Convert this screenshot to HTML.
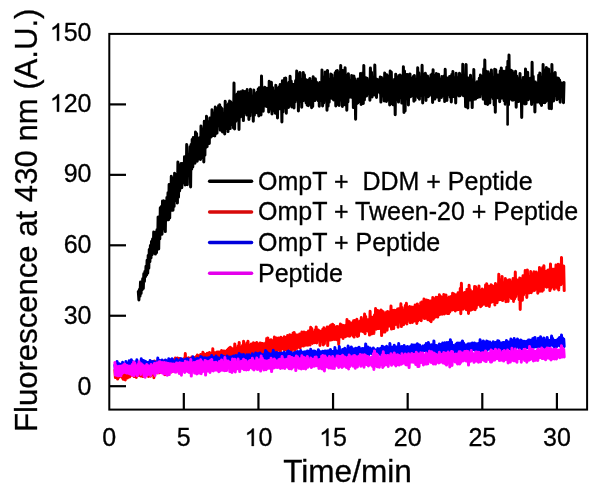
<!DOCTYPE html>
<html><head><meta charset="utf-8"><style>
html,body{margin:0;padding:0;background:#fff;width:598px;height:492px;overflow:hidden}
svg{display:block;will-change:transform}
text{font-family:"Liberation Sans",sans-serif;fill:#000;stroke:#000;stroke-width:0.3px}
.one{fill:#000;stroke:#000;stroke-width:24px}
</style></head><body>
<svg width="598" height="492" viewBox="0 0 598 492">
<rect x="0" y="0" width="598" height="492" fill="#fff"/>
<g fill="none" stroke-linejoin="round" stroke-linecap="round">
<polyline points="138.3,291.5 138.9,300.0 139.4,289.4 140.0,296.1 140.5,282.0 141.1,293.5 141.6,282.0 142.2,289.8 142.7,278.7 143.3,288.4 143.8,273.8 144.4,281.5 144.9,271.4 145.5,276.6 146.0,266.2 146.6,275.0 147.1,260.2 147.7,273.1 148.2,255.4 148.8,268.3 149.3,249.4 149.9,261.7 150.4,245.5 151.0,258.0 151.5,241.5 152.1,254.7 152.6,239.0 153.2,253.3 153.7,232.1 154.3,252.5 154.8,235.0 155.4,254.1 155.9,232.0 156.5,252.8 157.0,229.7 157.6,249.0 158.1,217.0 158.7,249.0 159.2,216.7 159.8,239.0 160.3,207.7 160.9,232.4 161.4,206.6 162.0,234.2 162.5,200.9 163.1,228.2 163.6,200.8 164.2,229.2 164.7,201.3 165.3,231.6 165.8,202.6 166.4,219.9 166.9,197.5 167.5,219.7 168.0,192.8 168.6,219.7 169.1,184.4 169.7,218.0 170.2,187.9 170.8,210.2 171.3,176.2 171.9,207.5 172.4,182.5 173.0,210.2 173.5,177.9 174.1,206.6 174.6,173.2 175.2,198.7 175.7,174.3 176.3,200.8 176.8,176.1 177.4,203.1 177.9,162.0 178.5,197.3 179.0,164.9 179.6,190.9 180.1,167.5 180.7,188.1 181.2,163.4 181.8,187.7 182.3,163.4 182.9,182.5 183.4,164.6 184.0,180.1 184.5,156.8 185.1,185.0 185.6,158.7 186.2,179.5 186.7,144.5 187.3,184.7 187.8,154.3 188.4,172.7 188.9,154.2 189.5,171.0 190.0,146.7 190.6,186.9 191.1,144.4 191.7,169.3 192.2,139.4 192.8,166.9 193.3,137.5 193.9,161.8 194.4,141.6 195.0,163.2 195.5,132.1 196.1,158.6 196.6,133.6 197.2,161.2 197.7,138.0 198.3,159.0 198.8,139.0 199.4,155.6 199.9,137.6 200.5,159.4 201.0,126.1 201.6,157.6 202.1,133.0 202.7,154.3 203.2,128.8 203.8,161.9 204.3,121.3 204.9,155.2 205.4,122.5 206.0,147.6 206.5,116.2 207.1,146.6 207.6,121.7 208.2,142.6 208.7,122.3 209.3,143.4 209.8,118.0 210.4,137.5 210.9,119.7 211.5,136.4 212.0,109.7 212.6,133.9 213.1,119.2 213.7,135.6 214.2,112.7 214.8,135.9 215.3,107.0 215.9,133.6 216.4,113.5 217.0,133.1 217.5,108.4 218.1,124.8 218.6,105.7 219.2,125.8 219.7,104.8 220.3,130.2 220.8,107.2 221.4,127.7 221.9,108.4 222.5,131.9 223.0,113.8 223.6,127.2 224.1,114.2 224.7,133.9 225.2,101.3 225.8,127.8 226.3,105.2 226.9,128.7 227.4,107.9 228.0,131.6 228.5,103.8 229.1,126.4 229.6,101.0 230.2,128.6 230.7,101.7 231.3,122.7 231.8,103.6 232.4,124.7 232.9,103.2 233.5,128.0 234.0,83.0 234.6,128.9 235.1,100.4 235.7,121.4 236.2,94.7 236.8,120.0 237.3,94.1 237.9,118.3 238.4,91.9 239.0,129.6 239.5,97.8 240.1,117.1 240.6,91.8 241.2,116.4 241.7,96.4 242.3,115.2 242.8,90.8 243.4,120.6 243.9,94.7 244.5,112.9 245.0,91.4 245.6,112.1 246.1,96.5 246.7,115.0 247.2,89.6 247.8,111.7 248.3,97.0 248.9,119.5 249.4,93.2 250.0,115.9 250.5,89.3 251.1,110.9 251.6,99.9 252.2,110.6 252.7,96.0 253.3,121.2 253.8,90.0 254.4,115.3 254.9,98.9 255.5,112.7 256.0,93.5 256.6,111.1 257.1,92.3 257.7,113.2 258.2,89.0 258.8,115.9 259.3,87.8 259.9,104.0 260.4,87.4 261.0,115.0 261.5,75.9 262.1,101.6 262.6,87.8 263.2,111.3 263.7,89.2 264.3,101.9 264.8,87.2 265.4,105.9 265.9,89.3 266.5,106.4 267.0,88.2 267.6,102.5 268.1,88.4 268.7,112.0 269.2,81.2 269.8,109.1 270.3,86.1 270.9,107.9 271.4,82.2 272.0,114.0 272.5,87.4 273.1,110.9 273.6,91.8 274.2,106.0 274.7,90.7 275.3,113.3 275.8,85.3 276.4,110.3 276.9,91.0 277.5,118.0 278.0,88.2 278.6,107.3 279.1,86.9 279.7,108.8 280.2,84.4 280.8,105.0 281.3,84.6 281.9,121.9 282.4,80.7 283.0,112.0 283.5,86.2 284.1,102.0 284.6,78.3 285.2,108.3 285.7,78.1 286.3,113.3 286.8,84.2 287.4,100.3 287.9,83.5 288.5,107.4 289.0,82.2 289.6,100.3 290.1,76.3 290.7,105.5 291.2,81.1 291.8,106.9 292.3,84.0 292.9,102.7 293.4,85.3 294.0,108.0 294.5,84.2 295.1,101.9 295.6,80.8 296.2,99.6 296.7,71.0 297.3,99.0 297.8,74.0 298.4,110.9 298.9,76.7 299.5,98.6 300.0,72.4 300.6,102.2 301.1,81.0 301.7,107.3 302.2,79.4 302.8,100.9 303.3,72.5 303.9,99.0 304.4,74.7 305.0,100.4 305.5,79.2 306.1,102.9 306.6,80.2 307.2,105.1 307.7,80.2 308.3,105.8 308.8,79.8 309.4,104.4 309.9,78.5 310.5,103.5 311.0,81.3 311.6,107.7 312.1,83.2 312.7,106.4 313.2,76.7 313.8,99.2 314.3,81.1 314.9,100.6 315.4,78.7 316.0,99.1 316.5,82.0 317.1,98.6 317.6,85.4 318.2,100.7 318.7,83.6 319.3,106.3 319.8,82.4 320.4,101.0 320.9,84.1 321.5,99.3 322.0,69.9 322.6,105.9 323.1,85.8 323.7,103.0 324.2,77.0 324.8,99.9 325.3,71.9 325.9,97.5 326.4,83.0 327.0,110.2 327.5,70.4 328.1,106.2 328.6,80.7 329.2,102.3 329.7,79.6 330.3,97.9 330.8,74.1 331.4,98.0 331.9,74.8 332.5,98.6 333.0,79.1 333.6,99.9 334.1,78.6 334.7,99.4 335.2,72.8 335.8,106.0 336.3,70.9 336.9,98.2 337.4,70.5 338.0,104.5 338.5,73.0 339.1,105.4 339.6,77.4 340.2,97.7 340.7,65.4 341.3,100.4 341.8,79.1 342.4,106.4 342.9,70.6 343.5,104.6 344.0,82.8 344.6,103.8 345.1,67.7 345.7,105.2 346.2,75.1 346.8,110.2 347.3,83.3 347.9,101.9 348.4,73.8 349.0,97.4 349.5,80.9 350.1,94.3 350.6,82.1 351.2,97.3 351.7,75.4 352.3,94.6 352.8,77.2 353.4,107.6 353.9,76.1 354.5,101.3 355.0,78.8 355.6,119.3 356.1,81.0 356.7,103.7 357.2,81.0 357.8,103.0 358.3,78.9 358.9,101.7 359.4,79.5 360.0,100.0 360.5,73.4 361.1,104.4 361.6,79.8 362.2,103.2 362.7,73.1 363.3,103.6 363.8,65.5 364.4,100.0 364.9,80.1 365.5,96.0 366.0,77.8 366.6,95.9 367.1,78.3 367.7,93.2 368.2,80.8 368.8,92.3 369.3,81.3 369.9,100.3 370.4,68.0 371.0,90.9 371.5,72.2 372.1,97.0 372.6,82.1 373.2,91.6 373.7,77.7 374.3,94.9 374.8,65.1 375.4,90.2 375.9,81.1 376.5,97.5 377.0,79.3 377.6,91.1 378.1,79.7 378.7,91.5 379.2,81.9 379.8,93.0 380.3,76.9 380.9,102.1 381.4,77.4 382.0,92.8 382.5,81.4 383.1,96.4 383.6,78.7 384.2,100.9 384.7,73.0 385.3,98.9 385.8,81.3 386.4,101.4 386.9,74.8 387.5,96.5 388.0,79.0 388.6,100.2 389.1,76.1 389.7,104.9 390.2,70.9 390.8,98.6 391.3,72.1 391.9,103.6 392.4,80.9 393.0,104.8 393.5,80.8 394.1,105.2 394.6,79.2 395.2,114.8 395.7,74.2 396.3,99.2 396.8,78.4 397.4,99.3 397.9,77.1 398.5,102.1 399.0,75.4 399.6,98.0 400.1,74.9 400.7,96.2 401.2,75.9 401.8,103.1 402.3,77.2 402.9,95.7 403.4,66.7 404.0,112.4 404.5,71.1 405.1,111.0 405.6,78.0 406.2,96.6 406.7,74.4 407.3,95.4 407.8,74.4 408.4,105.0 408.9,78.1 409.5,94.6 410.0,74.0 410.6,96.7 411.1,78.4 411.7,95.6 412.2,80.0 412.8,94.4 413.3,76.6 413.9,101.2 414.4,75.6 415.0,100.1 415.5,80.1 416.1,94.4 416.6,82.1 417.2,96.3 417.7,67.8 418.3,97.7 418.8,72.8 419.4,99.3 419.9,77.0 420.5,95.7 421.0,78.5 421.6,94.5 422.1,65.3 422.7,102.9 423.2,78.3 423.8,94.3 424.3,73.9 424.9,94.8 425.4,73.3 426.0,100.5 426.5,76.3 427.1,93.9 427.6,76.0 428.2,96.7 428.7,78.7 429.3,95.6 429.8,80.0 430.4,94.2 430.9,75.0 431.5,93.0 432.0,74.1 432.6,102.4 433.1,69.8 433.7,95.6 434.2,75.6 434.8,99.1 435.3,76.4 435.9,94.4 436.4,73.5 437.0,97.1 437.5,78.7 438.1,95.2 438.6,74.2 439.2,100.6 439.7,79.6 440.3,96.8 440.8,78.9 441.4,97.4 441.9,76.6 442.5,95.2 443.0,82.3 443.6,93.6 444.1,76.0 444.7,101.6 445.2,69.3 445.8,92.2 446.3,80.6 446.9,100.4 447.4,78.1 448.0,92.9 448.5,79.3 449.1,94.8 449.6,76.6 450.2,97.2 450.7,78.3 451.3,101.9 451.8,74.6 452.4,96.6 452.9,71.5 453.5,96.6 454.0,77.5 454.6,96.3 455.1,77.5 455.7,103.0 456.2,73.2 456.8,94.5 457.3,78.9 457.9,95.0 458.4,77.5 459.0,95.9 459.5,73.3 460.1,95.8 460.6,76.5 461.2,93.8 461.7,75.1 462.3,94.1 462.8,64.3 463.4,95.7 463.9,76.9 464.5,95.3 465.0,76.9 465.6,106.7 466.1,64.6 466.7,97.1 467.2,79.9 467.8,107.9 468.3,77.9 468.9,100.5 469.4,81.6 470.0,100.0 470.5,75.2 471.1,99.5 471.6,79.8 472.2,107.6 472.7,82.8 473.3,98.1 473.8,69.6 474.4,99.3 474.9,85.1 475.5,99.1 476.0,82.9 476.6,97.6 477.1,81.7 477.7,97.4 478.2,81.9 478.8,95.9 479.3,78.3 479.9,96.9 480.4,75.1 481.0,94.2 481.5,76.6 482.1,93.2 482.6,80.0 483.2,99.3 483.7,69.0 484.3,95.2 484.8,60.0 485.4,103.7 485.9,71.1 486.5,103.5 487.0,78.8 487.6,104.4 488.1,71.7 488.7,99.0 489.2,74.0 489.8,102.9 490.3,76.6 490.9,96.5 491.4,69.9 492.0,96.7 492.5,77.6 493.1,98.6 493.6,78.6 494.2,104.9 494.7,69.2 495.3,112.3 495.8,69.8 496.4,98.3 496.9,76.5 497.5,97.8 498.0,74.9 498.6,94.9 499.1,75.2 499.7,101.7 500.2,71.0 500.8,98.4 501.3,67.9 501.9,95.7 502.4,72.8 503.0,98.1 503.5,71.3 504.1,100.7 504.6,75.7 505.2,104.2 505.7,71.0 506.3,99.7 506.8,67.3 507.4,101.9 507.9,61.3 508.5,104.7 509.0,55.0 509.6,98.8 510.1,73.4 510.7,97.5 511.2,70.3 511.8,99.9 512.3,71.0 512.9,100.2 513.4,73.0 514.0,98.6 514.5,78.6 515.1,99.6 515.6,71.2 516.2,107.2 516.7,75.9 517.3,98.3 517.8,78.8 518.4,101.6 518.9,79.3 519.5,99.1 520.0,73.4 520.6,101.1 521.1,80.8 521.7,117.4 522.2,81.6 522.8,100.2 523.3,77.5 523.9,103.2 524.4,78.2 525.0,104.0 525.5,69.0 526.1,103.7 526.6,76.7 527.2,97.1 527.7,72.2 528.3,99.7 528.8,78.3 529.4,98.4 529.9,80.9 530.5,96.3 531.0,78.1 531.6,104.4 532.1,62.3 532.7,101.8 533.2,76.3 533.8,98.2 534.3,81.9 534.9,112.0 535.4,82.0 536.0,100.6 536.5,83.6 537.1,102.1 537.6,83.7 538.2,102.0 538.7,75.2 539.3,98.0 539.8,73.1 540.4,103.4 540.9,77.1 541.5,105.4 542.0,77.1 542.6,102.7 543.1,64.6 543.7,95.9 544.2,69.9 544.8,102.8 545.3,74.3 545.9,101.6 546.4,67.5 547.0,100.5 547.5,73.5 548.1,94.1 548.6,69.0 549.2,108.5 549.7,73.9 550.3,95.6 550.8,75.5 551.4,108.7 551.9,64.6 552.5,96.0 553.0,77.7 553.6,101.0 554.1,73.5 554.7,95.7 555.2,72.6 555.8,95.9 556.3,79.7 556.9,99.7 557.4,78.1 558.0,95.4 558.5,78.2 559.1,98.9 559.6,79.9 560.2,102.2 560.7,82.7 561.3,94.3 561.8,83.1 562.4,93.9 562.9,83.5 563.5,102.7 564.0,82.4" stroke="#000" stroke-width="3"/>
<line x1="507.6" y1="96" x2="507.6" y2="124.5" stroke="#000" stroke-width="2.6"/>
<polyline points="114.9,370.1 115.4,377.6 116.0,369.4 116.5,375.9 117.1,369.2 117.6,379.1 118.2,366.8 118.7,377.5 119.3,368.9 119.8,375.9 120.4,368.8 120.9,376.4 121.5,368.7 122.0,377.5 122.6,367.5 123.1,379.3 123.7,369.3 124.2,376.1 124.8,369.7 125.3,380.0 125.9,367.9 126.4,377.1 127.0,366.8 127.5,378.0 128.1,364.7 128.6,376.5 129.2,368.9 129.7,377.0 130.3,367.6 130.8,375.5 131.4,366.5 131.9,375.2 132.5,368.3 133.0,375.1 133.6,366.7 134.1,376.6 134.7,367.1 135.2,376.1 135.8,368.3 136.3,377.4 136.9,368.6 137.4,375.5 138.0,365.7 138.5,375.5 139.1,366.9 139.6,375.3 140.2,367.7 140.7,376.1 141.3,365.8 141.8,374.9 142.4,366.4 142.9,376.6 143.5,365.7 144.0,374.2 144.6,364.9 145.1,375.8 145.7,364.7 146.2,374.5 146.8,364.8 147.3,374.2 147.9,364.4 148.4,376.4 149.0,366.0 149.5,373.6 150.1,363.2 150.6,376.2 151.2,365.9 151.7,374.4 152.3,361.6 152.8,372.7 153.4,362.5 153.9,377.7 154.5,360.9 155.0,372.0 155.6,365.3 156.1,372.0 156.7,362.8 157.2,373.0 157.8,363.9 158.3,371.4 158.9,363.6 159.4,372.8 160.0,363.7 160.5,372.0 161.1,364.0 161.6,370.3 162.2,363.2 162.7,371.3 163.3,360.9 163.8,369.8 164.4,362.2 164.9,374.8 165.5,360.5 166.0,369.8 166.6,363.6 167.1,373.4 167.7,363.3 168.2,372.5 168.8,360.9 169.3,369.1 169.9,363.1 170.4,370.0 171.0,361.7 171.5,371.9 172.1,359.4 172.6,369.6 173.2,360.9 173.7,368.4 174.3,359.6 174.8,371.5 175.4,358.0 175.9,369.7 176.5,360.3 177.0,371.1 177.6,358.1 178.1,370.0 178.7,360.1 179.2,368.7 179.8,358.5 180.3,367.9 180.9,359.3 181.4,369.5 182.0,360.2 182.5,367.3 183.1,359.6 183.6,367.1 184.2,358.6 184.7,366.4 185.3,353.6 185.8,366.7 186.4,359.3 186.9,366.5 187.5,358.4 188.0,368.0 188.6,357.8 189.1,365.9 189.7,358.4 190.2,366.2 190.8,358.2 191.3,366.4 191.9,356.9 192.4,366.0 193.0,357.9 193.5,366.6 194.1,357.6 194.6,367.4 195.2,357.5 195.7,367.2 196.3,356.6 196.8,364.0 197.4,354.9 197.9,365.4 198.5,355.9 199.0,363.9 199.6,355.6 200.1,363.9 200.7,354.5 201.2,365.9 201.8,354.6 202.3,363.7 202.9,352.3 203.4,367.9 204.0,353.8 204.5,364.4 205.1,354.2 205.6,362.8 206.2,354.2 206.7,368.3 207.3,353.3 207.8,363.5 208.4,354.9 208.9,362.1 209.5,352.4 210.0,363.8 210.6,354.1 211.1,361.5 211.7,352.9 212.2,363.0 212.8,348.7 213.3,362.6 213.9,352.7 214.4,362.2 215.0,352.8 215.5,366.0 216.1,352.6 216.6,359.8 217.2,351.9 217.7,361.7 218.3,352.0 218.8,363.1 219.4,352.0 219.9,361.2 220.5,352.2 221.0,359.4 221.6,350.6 222.1,360.9 222.7,351.9 223.2,361.2 223.8,350.9 224.3,360.7 224.9,351.3 225.4,360.3 226.0,351.5 226.5,361.0 227.1,350.2 227.6,357.9 228.2,348.9 228.7,357.9 229.3,348.0 229.8,359.4 230.4,347.3 230.9,360.6 231.5,348.3 232.0,361.1 232.6,349.7 233.1,358.6 233.7,348.7 234.2,358.3 234.8,343.9 235.3,356.9 235.9,348.2 236.4,359.0 237.0,348.5 237.5,357.7 238.1,346.1 238.6,358.5 239.2,342.4 239.7,361.5 240.3,347.6 240.8,359.3 241.4,347.1 241.9,358.0 242.5,345.6 243.0,358.9 243.6,341.2 244.1,358.9 244.7,345.1 245.2,359.5 245.8,346.3 246.3,355.5 246.9,343.1 247.4,355.7 248.0,341.2 248.5,357.2 249.1,345.2 249.6,357.3 250.2,345.0 250.7,354.3 251.3,344.0 251.8,356.9 252.4,343.8 252.9,356.5 253.5,342.8 254.0,353.4 254.6,343.6 255.1,355.5 255.7,343.2 256.2,354.0 256.8,342.4 257.3,354.5 257.9,344.2 258.4,352.7 259.0,343.9 259.5,354.6 260.1,342.9 260.6,357.7 261.2,343.3 261.7,354.2 262.3,343.4 262.8,354.5 263.4,343.8 263.9,352.7 264.5,344.0 265.0,352.2 265.6,343.1 266.1,353.4 266.7,338.5 267.2,352.9 267.8,337.9 268.3,353.0 268.9,339.9 269.4,351.4 270.0,342.4 270.5,352.1 271.1,339.8 271.6,351.6 272.2,341.2 272.7,350.5 273.3,340.6 273.8,350.0 274.4,337.0 274.9,350.3 275.5,341.6 276.0,351.3 276.6,338.1 277.1,351.5 277.7,340.7 278.2,349.8 278.8,337.9 279.3,349.3 279.9,338.9 280.4,351.5 281.0,337.2 281.5,348.3 282.1,339.8 282.6,348.7 283.2,338.2 283.7,349.5 284.3,336.7 284.8,350.0 285.4,338.0 285.9,349.7 286.5,337.2 287.0,349.9 287.6,335.6 288.1,351.6 288.7,335.5 289.2,347.8 289.8,334.7 290.3,348.3 290.9,335.2 291.4,351.1 292.0,336.9 292.5,348.5 293.1,333.1 293.6,349.0 294.2,332.5 294.7,350.6 295.3,334.6 295.8,348.0 296.4,335.0 296.9,348.4 297.5,334.9 298.0,346.7 298.6,335.3 299.1,347.3 299.7,333.9 300.2,348.0 300.8,335.9 301.3,344.3 301.9,332.1 302.4,345.7 303.0,334.2 303.5,346.1 304.1,332.1 304.6,343.8 305.2,333.8 305.7,345.3 306.3,332.6 306.8,344.1 307.4,332.4 307.9,345.2 308.5,331.1 309.0,342.2 309.6,331.6 310.1,344.9 310.7,327.2 311.2,342.4 311.8,328.5 312.3,343.4 312.9,333.0 313.4,341.4 314.0,332.2 314.5,342.8 315.1,330.0 315.6,340.9 316.2,326.9 316.7,343.0 317.3,332.0 317.8,340.2 318.4,329.9 318.9,340.4 319.5,331.9 320.0,345.5 320.6,331.2 321.1,340.7 321.7,331.1 322.2,341.2 322.8,329.2 323.3,344.9 323.9,327.7 324.4,343.8 325.0,329.9 325.5,338.9 326.1,329.1 326.6,340.2 327.2,326.9 327.7,345.6 328.3,327.0 328.8,338.3 329.4,327.7 329.9,340.0 330.5,325.5 331.0,339.9 331.6,324.7 332.1,339.8 332.7,324.2 333.2,338.5 333.8,325.3 334.3,339.5 334.9,327.3 335.4,336.8 336.0,327.0 336.5,339.8 337.1,326.6 337.6,338.3 338.2,326.8 338.7,344.4 339.3,326.7 339.8,337.0 340.4,324.0 340.9,336.3 341.5,324.8 342.0,337.0 342.6,325.6 343.1,338.5 343.7,325.4 344.2,336.1 344.8,325.7 345.3,336.8 345.9,325.3 346.4,336.0 347.0,319.5 347.5,335.1 348.1,322.6 348.6,335.9 349.2,321.6 349.7,336.2 350.3,323.4 350.8,334.3 351.4,322.9 351.9,333.1 352.5,323.8 353.0,336.0 353.6,320.7 354.1,337.1 354.7,320.4 355.2,334.8 355.8,321.2 356.3,334.2 356.9,319.3 357.4,336.4 358.0,322.2 358.5,335.9 359.1,321.4 359.6,331.5 360.2,321.0 360.7,330.8 361.3,317.6 361.8,331.1 362.4,319.8 362.9,331.6 363.5,320.7 364.0,332.2 364.6,314.0 365.1,333.8 365.7,316.6 366.2,330.7 366.8,320.1 367.3,330.2 367.9,319.7 368.4,331.5 369.0,319.4 369.5,335.1 370.1,311.3 370.6,329.1 371.2,317.1 371.7,333.9 372.3,318.1 372.8,330.0 373.4,317.1 373.9,333.4 374.5,315.0 375.0,329.1 375.6,308.5 376.1,329.2 376.7,314.6 377.2,328.5 377.8,310.4 378.3,328.5 378.9,311.0 379.4,328.4 380.0,312.8 380.5,326.7 381.1,310.0 381.6,335.6 382.2,311.0 382.7,332.3 383.3,311.7 383.8,326.7 384.4,313.8 384.9,332.1 385.5,313.6 386.0,326.4 386.6,311.9 387.1,330.2 387.7,311.6 388.2,326.4 388.8,311.9 389.3,325.1 389.9,313.9 390.4,326.2 391.0,306.1 391.5,329.1 392.1,313.6 392.6,326.9 393.2,310.5 393.7,328.6 394.3,310.3 394.8,322.9 395.4,310.5 395.9,324.4 396.5,312.1 397.0,322.3 397.6,309.0 398.1,327.2 398.7,308.8 399.2,321.8 399.8,310.1 400.3,321.9 400.9,303.7 401.4,326.6 402.0,307.4 402.5,321.7 403.1,310.3 403.6,324.8 404.2,310.1 404.7,322.9 405.3,305.5 405.8,321.8 406.4,303.2 406.9,323.9 407.5,309.2 408.0,320.2 408.6,307.2 409.1,320.4 409.7,306.5 410.2,322.8 410.8,308.7 411.3,321.0 411.9,307.0 412.4,322.5 413.0,308.1 413.5,320.9 414.1,306.9 414.6,321.0 415.2,304.9 415.7,320.1 416.3,307.3 416.8,323.5 417.4,303.9 417.9,320.9 418.5,307.2 419.0,317.9 419.6,306.6 420.1,319.6 420.7,302.7 421.2,320.8 421.8,302.1 422.3,316.5 422.9,304.6 423.4,317.5 424.0,299.0 424.5,318.6 425.1,304.7 425.6,318.2 426.2,300.1 426.7,316.9 427.3,300.2 427.8,319.7 428.4,300.5 428.9,318.3 429.5,302.1 430.0,320.8 430.6,301.1 431.1,321.8 431.7,302.0 432.2,317.8 432.8,297.4 433.3,319.3 433.9,302.8 434.4,317.7 435.0,298.7 435.5,315.9 436.1,297.3 436.6,316.7 437.2,300.3 437.7,317.1 438.3,297.2 438.8,314.9 439.4,294.7 439.9,314.5 440.5,296.3 441.0,312.7 441.6,299.3 442.1,314.2 442.7,297.2 443.2,313.8 443.8,294.5 444.3,313.9 444.9,295.5 445.4,313.3 446.0,295.1 446.5,310.9 447.1,298.0 447.6,313.6 448.2,299.4 448.7,313.6 449.3,296.9 449.8,312.0 450.4,299.1 450.9,310.1 451.5,296.3 452.0,310.1 452.6,293.2 453.1,309.4 453.7,293.8 454.2,309.5 454.8,296.0 455.3,311.0 455.9,294.8 456.4,308.0 457.0,295.4 457.5,309.7 458.1,292.8 458.6,309.4 459.2,294.1 459.7,308.4 460.3,288.4 460.8,313.8 461.4,283.3 461.9,308.3 462.5,294.5 463.0,309.3 463.6,293.1 464.1,308.3 464.7,292.6 465.2,306.9 465.8,294.8 466.3,309.8 466.9,289.6 467.4,309.6 468.0,293.0 468.5,313.5 469.1,285.2 469.6,309.4 470.2,289.7 470.7,310.2 471.3,292.4 471.8,309.7 472.4,291.7 472.9,306.6 473.5,291.4 474.0,309.2 474.6,286.6 475.1,309.7 475.7,286.7 476.2,308.0 476.8,289.1 477.3,305.2 477.9,291.4 478.4,304.4 479.0,285.9 479.5,304.3 480.1,290.1 480.6,306.7 481.2,291.3 481.7,305.6 482.3,289.1 482.8,304.5 483.4,290.9 483.9,301.9 484.5,289.8 485.0,304.3 485.6,285.1 486.1,305.6 486.7,283.7 487.2,302.5 487.8,287.1 488.3,305.5 488.9,286.3 489.4,306.4 490.0,287.0 490.5,301.7 491.1,284.7 491.6,302.3 492.2,285.5 492.7,299.8 493.3,286.9 493.8,301.6 494.4,286.3 494.9,304.9 495.5,283.5 496.0,300.1 496.6,285.5 497.1,302.7 497.7,284.8 498.2,299.8 498.8,274.2 499.3,299.7 499.9,280.1 500.4,297.1 501.0,286.1 501.5,299.8 502.1,276.4 502.6,300.6 503.2,285.4 503.7,297.8 504.3,282.5 504.8,298.6 505.4,278.5 505.9,301.7 506.5,281.8 507.0,296.0 507.6,280.6 508.1,301.5 508.7,279.9 509.2,297.0 509.8,279.8 510.3,296.3 510.9,282.2 511.4,298.5 512.0,281.8 512.5,296.2 513.1,278.6 513.6,301.4 514.2,281.6 514.7,298.7 515.3,272.0 515.8,296.6 516.4,279.4 516.9,294.3 517.5,280.7 518.0,294.1 518.6,280.1 519.1,299.7 519.7,278.0 520.2,309.5 520.8,280.0 521.3,293.8 521.9,278.5 522.4,300.2 523.0,275.8 523.5,295.0 524.1,278.8 524.6,292.6 525.2,270.5 525.7,293.0 526.3,277.3 526.8,297.5 527.4,270.1 527.9,291.0 528.5,276.9 529.0,293.0 529.6,276.6 530.1,291.3 530.7,271.5 531.2,292.8 531.8,274.6 532.3,291.2 532.9,273.7 533.4,290.0 534.0,271.8 534.5,290.4 535.1,273.4 535.6,287.8 536.2,271.9 536.7,289.1 537.3,274.1 537.8,293.3 538.4,273.5 538.9,288.9 539.5,267.5 540.0,291.2 540.6,268.8 541.1,289.8 541.7,272.4 542.2,291.2 542.8,267.5 543.3,290.1 543.9,265.8 544.4,285.1 545.0,273.8 545.5,286.5 546.1,271.3 546.6,287.2 547.2,270.8 547.7,286.8 548.3,270.0 548.8,284.4 549.4,271.8 549.9,290.6 550.5,264.1 551.0,288.5 551.6,270.6 552.1,286.7 552.7,269.2 553.2,285.8 553.8,269.2 554.3,289.3 554.9,269.0 555.4,287.3 556.0,264.9 556.5,286.5 557.1,266.4 557.6,288.5 558.2,264.3 558.7,289.9 559.3,264.8 559.8,283.3 560.4,269.5 560.9,284.8 561.5,257.6 562.0,283.5 562.6,268.6 563.1,282.5 563.7,266.1 564.2,290.6" stroke="#ff0000" stroke-width="3"/>
<polyline points="114.9,365.1 115.4,369.7 116.0,365.5 116.5,369.6 117.1,361.4 117.6,369.2 118.2,364.8 118.7,369.6 119.3,363.8 119.8,372.2 120.4,364.2 120.9,371.3 121.5,364.8 122.0,371.0 122.6,362.3 123.1,369.0 123.7,364.4 124.2,370.2 124.8,364.3 125.3,369.9 125.9,361.5 126.4,370.9 127.0,364.0 127.5,369.7 128.1,362.9 128.6,369.6 129.2,360.7 129.7,370.7 130.3,363.4 130.8,372.2 131.4,359.8 131.9,372.2 132.5,361.4 133.0,370.2 133.6,362.0 134.1,368.9 134.7,363.2 135.2,372.1 135.8,361.8 136.3,368.5 136.9,359.8 137.4,369.5 138.0,362.5 138.5,370.9 139.1,362.4 139.6,371.8 140.2,362.4 140.7,367.8 141.3,358.8 141.8,369.1 142.4,362.5 142.9,368.2 143.5,360.6 144.0,369.0 144.6,361.1 145.1,369.6 145.7,361.4 146.2,369.0 146.8,362.2 147.3,368.1 147.9,362.7 148.4,368.9 149.0,362.2 149.5,367.7 150.1,360.5 150.6,368.0 151.2,361.5 151.7,367.0 152.3,362.2 152.8,368.7 153.4,361.4 153.9,368.6 154.5,362.0 155.0,368.6 155.6,362.2 156.1,367.9 156.7,362.0 157.2,366.6 157.8,358.0 158.3,368.0 158.9,361.4 159.4,367.4 160.0,360.6 160.5,368.3 161.1,361.8 161.6,367.4 162.2,359.9 162.7,366.2 163.3,362.0 163.8,367.5 164.4,361.9 164.9,366.0 165.5,359.9 166.0,367.6 166.6,361.5 167.1,368.2 167.7,360.7 168.2,366.6 168.8,358.7 169.3,366.1 169.9,361.6 170.4,368.2 171.0,359.4 171.5,365.7 172.1,358.7 172.6,367.0 173.2,360.7 173.7,367.5 174.3,360.9 174.8,365.3 175.4,360.9 175.9,367.9 176.5,358.9 177.0,367.9 177.6,361.2 178.1,365.9 178.7,360.8 179.2,365.7 179.8,359.9 180.3,366.6 180.9,358.7 181.4,365.2 182.0,359.0 182.5,365.4 183.1,360.7 183.6,367.3 184.2,360.0 184.7,367.7 185.3,359.4 185.8,368.7 186.4,358.9 186.9,364.7 187.5,358.7 188.0,366.4 188.6,359.6 189.1,367.1 189.7,359.7 190.2,366.7 190.8,358.8 191.3,365.2 191.9,359.3 192.4,365.5 193.0,356.8 193.5,364.6 194.1,359.4 194.6,364.9 195.2,359.2 195.7,364.6 196.3,359.0 196.8,366.3 197.4,358.3 197.9,363.9 198.5,358.7 199.0,365.1 199.6,358.6 200.1,363.8 200.7,356.6 201.2,364.6 201.8,357.1 202.3,364.7 202.9,358.0 203.4,364.7 204.0,358.0 204.5,366.0 205.1,357.7 205.6,365.2 206.2,358.6 206.7,366.0 207.3,358.0 207.8,364.8 208.4,358.3 208.9,363.4 209.5,357.4 210.0,364.5 210.6,357.7 211.1,364.4 211.7,355.6 212.2,363.6 212.8,357.6 213.3,362.9 213.9,357.7 214.4,365.4 215.0,357.3 215.5,363.5 216.1,355.9 216.6,363.1 217.2,357.9 217.7,363.2 218.3,357.7 218.8,363.7 219.4,358.3 219.9,362.7 220.5,358.4 221.0,364.0 221.6,355.2 222.1,362.5 222.7,357.1 223.2,362.0 223.8,356.5 224.3,362.0 224.9,358.0 225.4,362.9 226.0,357.6 226.5,361.8 227.1,356.1 227.6,362.5 228.2,356.9 228.7,365.2 229.3,357.3 229.8,362.1 230.4,356.9 230.9,361.4 231.5,357.4 232.0,362.3 232.6,356.5 233.1,364.6 233.7,356.0 234.2,361.2 234.8,357.1 235.3,362.5 235.9,355.5 236.4,361.3 237.0,356.4 237.5,364.1 238.1,355.5 238.6,361.3 239.2,353.4 239.7,362.0 240.3,355.9 240.8,360.9 241.4,354.7 241.9,366.0 242.5,356.2 243.0,361.1 243.6,354.5 244.1,364.0 244.7,355.9 245.2,362.1 245.8,355.9 246.3,361.9 246.9,354.7 247.4,360.8 248.0,355.4 248.5,360.4 249.1,354.8 249.6,363.9 250.2,355.7 250.7,360.5 251.3,355.7 251.8,362.7 252.4,353.7 252.9,361.2 253.5,355.2 254.0,360.9 254.6,355.6 255.1,360.6 255.7,352.9 256.2,360.9 256.8,353.4 257.3,361.7 257.9,355.4 258.4,362.7 259.0,353.5 259.5,361.9 260.1,353.1 260.6,359.5 261.2,354.2 261.7,361.6 262.3,354.8 262.8,360.1 263.4,355.0 263.9,360.6 264.5,354.1 265.0,361.2 265.6,350.6 266.1,361.6 266.7,351.7 267.2,361.6 267.8,352.9 268.3,359.9 268.9,353.4 269.4,361.4 270.0,354.2 270.5,361.6 271.1,354.1 271.6,360.6 272.2,353.5 272.7,360.5 273.3,350.2 273.8,360.3 274.4,352.4 274.9,359.6 275.5,353.0 276.0,361.5 276.6,352.4 277.1,363.3 277.7,353.0 278.2,360.7 278.8,353.7 279.3,361.4 279.9,353.3 280.4,360.0 281.0,354.1 281.5,360.3 282.1,352.9 282.6,359.4 283.2,354.1 283.7,360.1 284.3,352.3 284.8,360.7 285.4,354.1 285.9,359.7 286.5,353.6 287.0,358.4 287.6,351.5 288.1,360.0 288.7,351.0 289.2,358.8 289.8,353.7 290.3,359.9 290.9,352.3 291.4,358.4 292.0,353.9 292.5,359.4 293.1,353.4 293.6,360.0 294.2,352.7 294.7,360.7 295.3,352.7 295.8,358.1 296.4,352.1 296.9,359.1 297.5,351.5 298.0,359.8 298.6,352.0 299.1,360.3 299.7,351.5 300.2,358.8 300.8,350.6 301.3,358.4 301.9,352.3 302.4,357.9 303.0,353.1 303.5,362.9 304.1,352.0 304.6,358.0 305.2,351.8 305.7,362.6 306.3,351.8 306.8,357.4 307.4,351.0 307.9,360.9 308.5,351.3 309.0,358.8 309.6,351.3 310.1,358.0 310.7,349.3 311.2,357.8 311.8,351.7 312.3,360.1 312.9,351.3 313.4,359.1 314.0,351.1 314.5,356.7 315.1,351.2 315.6,357.5 316.2,352.3 316.7,359.0 317.3,352.1 317.8,358.0 318.4,349.7 318.9,358.3 319.5,351.9 320.0,358.6 320.6,351.7 321.1,359.6 321.7,351.9 322.2,357.4 322.8,351.2 323.3,356.4 323.9,351.6 324.4,357.0 325.0,351.0 325.5,358.4 326.1,351.0 326.6,359.0 327.2,351.6 327.7,357.6 328.3,350.7 328.8,357.2 329.4,351.7 329.9,357.2 330.5,349.6 331.0,357.1 331.6,351.3 332.1,358.2 332.7,351.6 333.2,357.7 333.8,351.3 334.3,361.1 334.9,347.5 335.4,356.9 336.0,350.5 336.5,357.2 337.1,351.3 337.6,356.4 338.2,351.1 338.7,357.4 339.3,346.6 339.8,356.3 340.4,351.0 340.9,357.7 341.5,350.7 342.0,355.6 342.6,349.4 343.1,358.0 343.7,350.7 344.2,357.7 344.8,348.3 345.3,358.1 345.9,349.7 346.4,357.8 347.0,350.5 347.5,356.4 348.1,346.0 348.6,355.8 349.2,348.0 349.7,356.8 350.3,349.5 350.8,356.8 351.4,347.1 351.9,357.9 352.5,348.8 353.0,355.7 353.6,350.0 354.1,356.4 354.7,348.8 355.2,356.9 355.8,348.2 356.3,356.3 356.9,349.2 357.4,356.8 358.0,348.0 358.5,356.2 359.1,347.2 359.6,354.9 360.2,349.5 360.7,356.9 361.3,349.1 361.8,355.0 362.4,348.6 362.9,355.5 363.5,349.4 364.0,355.9 364.6,348.2 365.1,355.0 365.7,343.9 366.2,355.7 366.8,349.4 367.3,354.0 367.9,347.1 368.4,355.3 369.0,348.7 369.5,353.4 370.1,348.0 370.6,353.3 371.2,349.1 371.7,353.5 372.3,349.2 372.8,354.0 373.4,348.1 373.9,354.2 374.5,349.7 375.0,354.5 375.6,350.0 376.1,353.9 376.7,349.8 377.2,356.7 377.8,348.5 378.3,353.9 378.9,349.0 379.4,354.1 380.0,348.8 380.5,354.5 381.1,348.3 381.6,355.3 382.2,346.2 382.7,354.6 383.3,346.7 383.8,354.4 384.4,347.6 384.9,353.5 385.5,347.8 386.0,352.9 386.6,346.3 387.1,355.2 387.7,347.4 388.2,354.0 388.8,348.2 389.3,355.2 389.9,343.5 390.4,353.3 391.0,347.2 391.5,357.1 392.1,347.2 392.6,355.5 393.2,347.1 393.7,354.0 394.3,345.2 394.8,356.8 395.4,347.1 395.9,353.9 396.5,347.1 397.0,353.7 397.6,347.0 398.1,352.5 398.7,343.6 399.2,354.2 399.8,346.6 400.3,352.9 400.9,347.3 401.4,354.2 402.0,346.4 402.5,352.6 403.1,347.2 403.6,353.4 404.2,345.6 404.7,353.9 405.3,347.0 405.8,352.6 406.4,347.4 406.9,354.2 407.5,346.4 408.0,353.4 408.6,347.1 409.1,354.5 409.7,347.2 410.2,354.6 410.8,346.2 411.3,358.3 411.9,344.7 412.4,353.5 413.0,346.7 413.5,353.7 414.1,345.0 414.6,352.6 415.2,347.1 415.7,351.3 416.3,344.7 416.8,353.8 417.4,343.7 417.9,351.3 418.5,345.1 419.0,351.3 419.6,344.9 420.1,353.0 420.7,346.7 421.2,352.1 421.8,346.9 422.3,352.8 422.9,346.1 423.4,350.5 424.0,346.2 424.5,350.5 425.1,345.2 425.6,350.8 426.2,343.6 426.7,351.2 427.3,346.3 427.8,353.8 428.4,342.6 428.9,350.8 429.5,345.8 430.0,354.2 430.6,345.1 431.1,352.4 431.7,344.8 432.2,354.4 432.8,346.1 433.3,353.0 433.9,340.9 434.4,354.0 435.0,345.7 435.5,350.6 436.1,345.4 436.6,352.3 437.2,345.7 437.7,351.0 438.3,345.7 438.8,353.4 439.4,343.9 439.9,352.2 440.5,344.4 441.0,352.2 441.6,345.5 442.1,352.2 442.7,342.9 443.2,350.5 443.8,344.6 444.3,352.3 444.9,342.8 445.4,353.4 446.0,345.2 446.5,351.2 447.1,342.5 447.6,351.3 448.2,345.7 448.7,350.8 449.3,342.3 449.8,352.5 450.4,339.7 450.9,350.5 451.5,342.0 452.0,350.9 452.6,345.4 453.1,350.9 453.7,345.4 454.2,351.9 454.8,345.5 455.3,351.8 455.9,344.3 456.4,351.8 457.0,343.3 457.5,353.9 458.1,342.9 458.6,350.1 459.2,345.1 459.7,349.8 460.3,342.9 460.8,350.1 461.4,342.7 461.9,351.4 462.5,340.9 463.0,349.9 463.6,343.0 464.1,352.0 464.7,345.0 465.2,349.2 465.8,344.9 466.3,349.4 466.9,344.8 467.4,351.4 468.0,344.0 468.5,352.0 469.1,343.8 469.6,349.3 470.2,344.3 470.7,352.8 471.3,343.6 471.8,350.6 472.4,342.9 472.9,349.7 473.5,344.0 474.0,349.5 474.6,343.0 475.1,350.1 475.7,344.3 476.2,351.4 476.8,343.8 477.3,350.4 477.9,343.7 478.4,353.4 479.0,343.3 479.5,352.9 480.1,339.8 480.6,349.2 481.2,342.4 481.7,352.1 482.3,341.8 482.8,349.3 483.4,340.9 483.9,351.4 484.5,343.3 485.0,348.4 485.6,342.2 486.1,348.7 486.7,341.1 487.2,350.2 487.8,341.4 488.3,348.7 488.9,342.8 489.4,349.0 490.0,342.0 490.5,348.1 491.1,343.2 491.6,350.8 492.2,343.4 492.7,348.5 493.3,341.8 493.8,348.1 494.4,343.4 494.9,348.8 495.5,342.4 496.0,349.2 496.6,342.3 497.1,350.6 497.7,340.8 498.2,348.2 498.8,340.9 499.3,348.3 499.9,343.2 500.4,351.6 501.0,342.9 501.5,348.5 502.1,343.1 502.6,349.1 503.2,342.5 503.7,348.6 504.3,342.4 504.8,347.1 505.4,342.4 505.9,351.5 506.5,340.5 507.0,347.7 507.6,341.9 508.1,346.7 508.7,342.0 509.2,348.8 509.8,342.3 510.3,347.8 510.9,339.0 511.4,349.9 512.0,342.0 512.5,346.6 513.1,340.3 513.6,348.0 514.2,338.5 514.7,354.7 515.3,340.2 515.8,347.8 516.4,340.7 516.9,346.3 517.5,339.0 518.0,346.3 518.6,340.6 519.1,348.6 519.7,341.0 520.2,347.3 520.8,340.0 521.3,351.0 521.9,340.8 522.4,346.6 523.0,341.6 523.5,346.8 524.1,341.3 524.6,346.7 525.2,341.4 525.7,346.1 526.3,342.1 526.8,347.7 527.4,341.0 527.9,346.5 528.5,339.9 529.0,348.6 529.6,340.0 530.1,348.1 530.7,341.2 531.2,348.1 531.8,339.9 532.3,346.9 532.9,338.4 533.4,347.3 534.0,337.9 534.5,346.9 535.1,337.6 535.6,346.8 536.2,341.2 536.7,345.8 537.3,341.3 537.8,347.5 538.4,338.3 538.9,346.0 539.5,338.7 540.0,346.5 540.6,336.8 541.1,347.2 541.7,338.9 542.2,346.0 542.8,339.6 543.3,346.9 543.9,337.9 544.4,345.4 545.0,340.2 545.5,349.8 546.1,340.3 546.6,347.7 547.2,337.6 547.7,345.4 548.3,339.9 548.8,345.3 549.4,340.6 549.9,346.4 550.5,340.7 551.0,344.8 551.6,336.0 552.1,345.0 552.7,338.6 553.2,345.7 553.8,340.2 554.3,348.9 554.9,340.6 555.4,345.0 556.0,340.5 556.5,346.8 557.1,340.0 557.6,345.2 558.2,339.0 558.7,345.2 559.3,337.8 559.8,345.9 560.4,337.3 560.9,345.1 561.5,335.0 562.0,346.1 562.6,337.9 563.1,344.4 563.7,338.9 564.2,346.5" stroke="#0000ff" stroke-width="3"/>
<polyline points="114.9,362.6 115.4,375.1 116.0,365.4 116.5,372.9 117.1,366.6 117.6,375.8 118.2,366.8 118.7,375.7 119.3,366.3 119.8,373.8 120.4,366.5 120.9,375.8 121.5,366.0 122.0,373.7 122.6,365.7 123.1,372.7 123.7,364.8 124.2,372.2 124.8,363.9 125.3,372.6 125.9,365.7 126.4,372.9 127.0,365.4 127.5,372.9 128.1,366.0 128.6,373.2 129.2,367.5 129.7,373.8 130.3,365.9 130.8,372.5 131.4,365.9 131.9,375.1 132.5,364.3 133.0,374.8 133.6,362.0 134.1,375.7 134.7,362.8 135.2,374.0 135.8,366.0 136.3,371.8 136.9,366.2 137.4,375.8 138.0,364.6 138.5,372.1 139.1,361.7 139.6,372.5 140.2,364.5 140.7,374.5 141.3,363.8 141.8,372.0 142.4,364.7 142.9,371.8 143.5,366.0 144.0,376.1 144.6,366.1 145.1,377.3 145.7,365.8 146.2,375.2 146.8,364.6 147.3,375.2 147.9,365.6 148.4,373.4 149.0,366.5 149.5,374.1 150.1,366.1 150.6,375.5 151.2,364.5 151.7,372.2 152.3,366.1 152.8,373.2 153.4,365.4 153.9,373.0 154.5,363.4 155.0,375.5 155.6,365.5 156.1,372.7 156.7,363.0 157.2,372.2 157.8,365.3 158.3,372.6 158.9,362.1 159.4,371.2 160.0,361.8 160.5,371.6 161.1,364.5 161.6,372.8 162.2,362.5 162.7,371.9 163.3,365.0 163.8,374.1 164.4,362.4 164.9,373.7 165.5,362.9 166.0,372.7 166.6,363.1 167.1,375.3 167.7,363.4 168.2,371.9 168.8,363.4 169.3,374.6 169.9,364.6 170.4,372.4 171.0,363.7 171.5,371.5 172.1,364.8 172.6,370.7 173.2,363.9 173.7,371.4 174.3,364.5 174.8,372.0 175.4,363.9 175.9,372.2 176.5,363.1 177.0,370.2 177.6,363.2 178.1,370.6 178.7,364.5 179.2,373.5 179.8,362.7 180.3,372.9 180.9,363.2 181.4,375.3 182.0,363.3 182.5,371.5 183.1,363.4 183.6,371.1 184.2,363.9 184.7,372.4 185.3,361.3 185.8,371.1 186.4,363.0 186.9,370.7 187.5,361.9 188.0,371.7 188.6,362.8 189.1,372.4 189.7,364.1 190.2,371.6 190.8,359.5 191.3,376.1 191.9,362.8 192.4,370.7 193.0,363.7 193.5,370.7 194.1,362.5 194.6,373.1 195.2,362.5 195.7,370.5 196.3,361.9 196.8,374.0 197.4,361.3 197.9,372.0 198.5,361.1 199.0,373.1 199.6,363.8 200.1,369.8 200.7,359.8 201.2,373.7 201.8,361.5 202.3,371.7 202.9,362.7 203.4,370.9 204.0,363.5 204.5,371.3 205.1,360.4 205.6,375.1 206.2,361.0 206.7,370.9 207.3,363.7 207.8,371.1 208.4,361.5 208.9,369.5 209.5,363.3 210.0,372.4 210.6,360.2 211.1,368.8 211.7,359.4 212.2,370.5 212.8,362.6 213.3,370.9 213.9,362.8 214.4,370.0 215.0,362.6 215.5,370.1 216.1,362.3 216.6,369.5 217.2,363.2 217.7,370.5 218.3,363.0 218.8,371.7 219.4,361.6 219.9,371.0 220.5,361.7 221.0,369.8 221.6,359.9 222.1,370.2 222.7,362.1 223.2,368.3 223.8,362.3 224.3,370.7 224.9,357.5 225.4,369.3 226.0,360.5 226.5,370.6 227.1,362.9 227.6,368.0 228.2,360.9 228.7,367.8 229.3,362.5 229.8,371.6 230.4,362.2 230.9,370.1 231.5,362.4 232.0,372.5 232.6,358.9 233.1,370.6 233.7,362.2 234.2,368.2 234.8,359.2 235.3,371.9 235.9,362.6 236.4,368.6 237.0,361.9 237.5,368.8 238.1,359.0 238.6,368.5 239.2,362.2 239.7,371.6 240.3,361.7 240.8,368.6 241.4,361.3 241.9,368.2 242.5,362.8 243.0,368.7 243.6,359.3 244.1,369.7 244.7,360.9 245.2,369.3 245.8,360.6 246.3,369.9 246.9,362.5 247.4,367.6 248.0,362.5 248.5,369.7 249.1,360.9 249.6,367.2 250.2,360.5 250.7,367.7 251.3,360.2 251.8,367.9 252.4,358.2 252.9,369.1 253.5,362.4 254.0,369.9 254.6,360.9 255.1,368.3 255.7,362.0 256.2,367.4 256.8,358.0 257.3,369.5 257.9,361.2 258.4,369.2 259.0,360.1 259.5,367.2 260.1,359.5 260.6,371.1 261.2,356.0 261.7,368.1 262.3,358.3 262.8,368.0 263.4,360.4 263.9,370.0 264.5,360.7 265.0,367.6 265.6,361.1 266.1,369.7 266.7,361.2 267.2,368.6 267.8,361.0 268.3,368.2 268.9,360.6 269.4,367.9 270.0,361.3 270.5,368.6 271.1,358.2 271.6,371.6 272.2,359.7 272.7,367.4 273.3,361.5 273.8,368.0 274.4,359.1 274.9,366.9 275.5,360.8 276.0,367.3 276.6,361.0 277.1,367.5 277.7,360.9 278.2,367.3 278.8,359.7 279.3,366.8 279.9,359.3 280.4,368.5 281.0,359.5 281.5,366.6 282.1,356.5 282.6,368.0 283.2,359.1 283.7,367.6 284.3,359.8 284.8,368.4 285.4,360.7 285.9,366.0 286.5,359.2 287.0,366.7 287.6,360.3 288.1,367.5 288.7,356.6 289.2,368.8 289.8,356.4 290.3,367.3 290.9,359.6 291.4,368.9 292.0,357.5 292.5,367.7 293.1,360.1 293.6,366.6 294.2,358.2 294.7,366.4 295.3,358.0 295.8,370.6 296.4,356.0 296.9,367.5 297.5,356.8 298.0,367.3 298.6,358.6 299.1,368.3 299.7,359.3 300.2,367.0 300.8,358.6 301.3,369.0 301.9,355.8 302.4,368.0 303.0,358.9 303.5,368.5 304.1,357.5 304.6,366.7 305.2,360.2 305.7,369.0 306.3,357.9 306.8,367.5 307.4,356.5 307.9,367.2 308.5,359.9 309.0,365.7 309.6,359.9 310.1,365.9 310.7,358.1 311.2,367.5 311.8,360.4 312.3,366.7 312.9,359.3 313.4,365.7 314.0,360.3 314.5,366.2 315.1,357.3 315.6,365.1 316.2,357.0 316.7,365.7 317.3,360.0 317.8,365.3 318.4,359.9 318.9,368.4 319.5,359.6 320.0,365.3 320.6,359.7 321.1,368.3 321.7,356.2 322.2,369.0 322.8,355.5 323.3,367.4 323.9,358.8 324.4,371.0 325.0,356.1 325.5,367.0 326.1,357.4 326.6,365.2 327.2,358.5 327.7,367.0 328.3,358.7 328.8,367.9 329.4,356.5 329.9,365.1 330.5,357.8 331.0,368.1 331.6,357.7 332.1,368.3 332.7,356.5 333.2,366.3 333.8,359.3 334.3,368.5 334.9,359.1 335.4,365.0 336.0,358.9 336.5,365.0 337.1,356.0 337.6,366.0 338.2,356.1 338.7,367.5 339.3,356.5 339.8,364.6 340.4,356.4 340.9,366.4 341.5,358.1 342.0,367.4 342.6,355.2 343.1,366.4 343.7,356.5 344.2,366.1 344.8,357.0 345.3,365.7 345.9,357.7 346.4,367.5 347.0,357.8 347.5,364.5 348.1,357.2 348.6,368.9 349.2,355.0 349.7,366.7 350.3,358.5 350.8,365.0 351.4,356.7 351.9,365.0 352.5,356.9 353.0,366.2 353.6,355.8 354.1,364.9 354.7,355.6 355.2,368.3 355.8,357.4 356.3,365.5 356.9,356.7 357.4,366.9 358.0,357.9 358.5,364.1 359.1,356.3 359.6,363.7 360.2,354.5 360.7,366.3 361.3,355.9 361.8,365.3 362.4,355.0 362.9,364.2 363.5,357.0 364.0,367.2 364.6,354.7 365.1,363.7 365.7,355.6 366.2,364.4 366.8,356.2 367.3,364.7 367.9,356.6 368.4,365.9 369.0,357.8 369.5,364.0 370.1,357.4 370.6,364.4 371.2,357.8 371.7,365.5 372.3,357.0 372.8,366.6 373.4,353.7 373.9,369.4 374.5,350.9 375.0,364.2 375.6,356.7 376.1,365.9 376.7,353.9 377.2,366.8 377.8,355.2 378.3,364.5 378.9,357.7 379.4,367.2 380.0,357.4 380.5,364.7 381.1,356.9 381.6,363.8 382.2,354.9 382.7,367.4 383.3,351.7 383.8,366.1 384.4,356.7 384.9,365.0 385.5,355.5 386.0,364.6 386.6,355.9 387.1,363.7 387.7,355.4 388.2,366.5 388.8,355.8 389.3,363.0 389.9,355.8 390.4,362.9 391.0,353.7 391.5,365.3 392.1,355.5 392.6,362.6 393.2,355.2 393.7,363.6 394.3,353.1 394.8,364.6 395.4,355.1 395.9,365.9 396.5,355.5 397.0,364.7 397.6,354.8 398.1,362.9 398.7,355.2 399.2,365.1 399.8,356.7 400.3,363.5 400.9,356.7 401.4,364.2 402.0,353.8 402.5,363.4 403.1,356.2 403.6,362.0 404.2,355.6 404.7,363.1 405.3,354.1 405.8,364.8 406.4,355.4 406.9,364.9 407.5,354.7 408.0,363.5 408.6,353.8 409.1,367.6 409.7,354.8 410.2,361.8 410.8,355.0 411.3,361.9 411.9,353.4 412.4,362.1 413.0,354.2 413.5,362.3 414.1,354.5 414.6,362.5 415.2,354.3 415.7,364.4 416.3,352.2 416.8,364.4 417.4,353.5 417.9,366.6 418.5,354.5 419.0,366.5 419.6,355.0 420.1,362.7 420.7,352.8 421.2,362.5 421.8,354.1 422.3,362.1 422.9,353.0 423.4,364.9 424.0,355.4 424.5,362.1 425.1,355.2 425.6,363.9 426.2,353.1 426.7,364.1 427.3,354.1 427.8,363.8 428.4,355.6 428.9,361.5 429.5,351.2 430.0,361.3 430.6,354.7 431.1,362.5 431.7,351.7 432.2,361.8 432.8,352.9 433.3,364.0 433.9,353.1 434.4,362.0 435.0,353.7 435.5,364.1 436.1,354.5 436.6,361.5 437.2,355.4 437.7,362.2 438.3,355.1 438.8,362.9 439.4,352.3 439.9,362.3 440.5,354.9 441.0,361.9 441.6,354.5 442.1,361.7 442.7,354.1 443.2,363.1 443.8,352.4 444.3,362.4 444.9,352.9 445.4,363.9 446.0,354.1 446.5,365.1 447.1,352.9 447.6,361.9 448.2,352.1 448.7,363.4 449.3,353.3 449.8,366.9 450.4,353.6 450.9,360.7 451.5,351.6 452.0,365.5 452.6,351.8 453.1,361.0 453.7,354.2 454.2,360.7 454.8,354.5 455.3,362.1 455.9,353.9 456.4,361.2 457.0,354.8 457.5,363.9 458.1,353.7 458.6,362.3 459.2,351.8 459.7,364.0 460.3,351.8 460.8,362.4 461.4,353.4 461.9,360.6 462.5,353.0 463.0,361.0 463.6,353.7 464.1,359.5 464.7,351.5 465.2,360.3 465.8,351.4 466.3,361.1 466.9,351.2 467.4,359.3 468.0,351.5 468.5,365.1 469.1,352.7 469.6,360.7 470.2,352.8 470.7,361.2 471.3,350.6 471.8,360.0 472.4,352.9 472.9,360.3 473.5,354.0 474.0,362.3 474.6,354.1 475.1,361.2 475.7,352.0 476.2,360.4 476.8,352.1 477.3,361.1 477.9,354.0 478.4,362.2 479.0,352.3 479.5,361.5 480.1,354.2 480.6,361.8 481.2,353.3 481.7,359.7 482.3,352.8 482.8,359.5 483.4,352.8 483.9,360.3 484.5,353.9 485.0,361.1 485.6,350.9 486.1,361.6 486.7,353.2 487.2,359.4 487.8,353.3 488.3,358.8 488.9,353.3 489.4,359.7 490.0,352.5 490.5,361.9 491.1,350.1 491.6,361.9 492.2,350.8 492.7,359.6 493.3,351.6 493.8,360.2 494.4,353.0 494.9,359.9 495.5,349.3 496.0,358.7 496.6,351.6 497.1,358.6 497.7,351.2 498.2,358.7 498.8,349.8 499.3,360.5 499.9,350.6 500.4,360.3 501.0,353.2 501.5,359.5 502.1,352.8 502.6,360.3 503.2,351.6 503.7,361.1 504.3,350.4 504.8,359.7 505.4,352.7 505.9,359.5 506.5,351.4 507.0,358.7 507.6,350.1 508.1,362.9 508.7,351.6 509.2,359.2 509.8,351.7 510.3,362.1 510.9,352.9 511.4,359.9 512.0,348.3 512.5,359.9 513.1,351.7 513.6,360.8 514.2,352.8 514.7,360.0 515.3,349.1 515.8,361.1 516.4,351.8 516.9,362.3 517.5,351.3 518.0,358.6 518.6,350.6 519.1,358.6 519.7,350.1 520.2,358.4 520.8,351.8 521.3,362.2 521.9,351.5 522.4,358.9 523.0,351.9 523.5,358.2 524.1,349.5 524.6,360.5 525.2,349.3 525.7,357.9 526.3,350.9 526.8,362.2 527.4,351.2 527.9,358.5 528.5,351.7 529.0,360.2 529.6,346.6 530.1,359.6 530.7,349.3 531.2,357.8 531.8,349.3 532.3,359.0 532.9,349.4 533.4,360.9 534.0,351.3 534.5,358.2 535.1,351.2 535.6,360.3 536.2,351.3 536.7,358.5 537.3,350.3 537.8,360.4 538.4,348.9 538.9,358.0 539.5,350.8 540.0,357.4 540.6,349.9 541.1,357.4 541.7,348.1 542.2,358.6 542.8,348.9 543.3,358.5 543.9,350.2 544.4,358.0 545.0,349.7 545.5,359.8 546.1,349.1 546.6,357.6 547.2,348.0 547.7,358.1 548.3,350.7 548.8,357.5 549.4,348.5 549.9,358.6 550.5,348.3 551.0,359.9 551.6,349.7 552.1,359.0 552.7,349.7 553.2,357.2 553.8,349.2 554.3,359.0 554.9,349.5 555.4,357.3 556.0,349.0 556.5,358.9 557.1,350.2 557.6,356.6 558.2,350.2 558.7,357.0 559.3,350.1 559.8,357.7 560.4,349.9 560.9,356.2 561.5,345.7 562.0,357.1 562.6,348.1 563.1,356.5 563.7,349.3 564.2,357.0" stroke="#ff00ff" stroke-width="3"/>
</g>
<rect x="109.3" y="33.9" width="477.8" height="375.7" fill="none" stroke="#000" stroke-width="2"/>
<g stroke="#000" stroke-width="2.2"><line x1="109" y1="386.20" x2="126" y2="386.20"/><line x1="109" y1="315.75" x2="126" y2="315.75"/><line x1="109" y1="245.30" x2="126" y2="245.30"/><line x1="109" y1="174.85" x2="126" y2="174.85"/><line x1="109" y1="104.40" x2="126" y2="104.40"/><line x1="183.82" y1="409.5" x2="183.82" y2="393"/><line x1="258.44" y1="409.5" x2="258.44" y2="393"/><line x1="333.06" y1="409.5" x2="333.06" y2="393"/><line x1="407.68" y1="409.5" x2="407.68" y2="393"/><line x1="482.30" y1="409.5" x2="482.30" y2="393"/><line x1="556.92" y1="409.5" x2="556.92" y2="393"/></g>
<g font-size="25"><text x="77.60" y="395.00">0</text><text x="63.69" y="324.16">3</text><text x="77.60" y="324.16">0</text><text x="63.69" y="253.32">6</text><text x="77.60" y="253.32">0</text><text x="63.69" y="182.48">9</text><text x="77.60" y="182.48">0</text><path class="one" transform="translate(49.79,111.64) scale(0.012207,-0.011907)" d="M763 0H583V1147Q518 1085 413 1023Q307 961 223 930V1104Q374 1175 487 1276Q600 1377 647 1466H763Z"/><text x="63.69" y="111.64">2</text><text x="77.60" y="111.64">0</text><path class="one" transform="translate(49.79,40.81) scale(0.012207,-0.011907)" d="M763 0H583V1147Q518 1085 413 1023Q307 961 223 930V1104Q374 1175 487 1276Q600 1377 647 1466H763Z"/><text x="63.69" y="40.81">5</text><text x="77.60" y="40.81">0</text><text x="102.25" y="446.00">0</text><text x="176.87" y="446.00">5</text><path class="one" transform="translate(244.54,446.00) scale(0.012207,-0.011907)" d="M763 0H583V1147Q518 1085 413 1023Q307 961 223 930V1104Q374 1175 487 1276Q600 1377 647 1466H763Z"/><text x="258.44" y="446.00">0</text><path class="one" transform="translate(319.16,446.00) scale(0.012207,-0.011907)" d="M763 0H583V1147Q518 1085 413 1023Q307 961 223 930V1104Q374 1175 487 1276Q600 1377 647 1466H763Z"/><text x="333.06" y="446.00">5</text><text x="393.78" y="446.00">2</text><text x="407.68" y="446.00">0</text><text x="468.40" y="446.00">2</text><text x="482.30" y="446.00">5</text><text x="543.02" y="446.00">3</text><text x="556.92" y="446.00">0</text></g>
<g font-size="25"><line x1="209.6" y1="181.3" x2="251.6" y2="181.3" stroke="#000" stroke-width="3.4" stroke-linecap="round"/><text x="258" y="189.7" xml:space="preserve">OmpT +  DDM + Peptide</text><line x1="209.6" y1="212.0" x2="251.6" y2="212.0" stroke="#d80a0a" stroke-width="3.4" stroke-linecap="round"/><text x="258" y="220.4" xml:space="preserve">OmpT + Tween-20 + Peptide</text><line x1="209.6" y1="242.5" x2="251.6" y2="242.5" stroke="#0000dc" stroke-width="3.4" stroke-linecap="round"/><text x="258" y="251.1" xml:space="preserve">OmpT + Peptide</text><line x1="209.6" y1="273.3" x2="251.6" y2="273.3" stroke="#e400ec" stroke-width="3.4" stroke-linecap="round"/><text x="258" y="281.6" xml:space="preserve">Peptide</text></g>
<text x="347.5" y="482" font-size="31.6" text-anchor="middle">Time/min</text>
<text transform="translate(37,432) rotate(-90)" font-size="31.1">Fluorescence at 430 nm (A.U.)</text>
</svg>
</body></html>
